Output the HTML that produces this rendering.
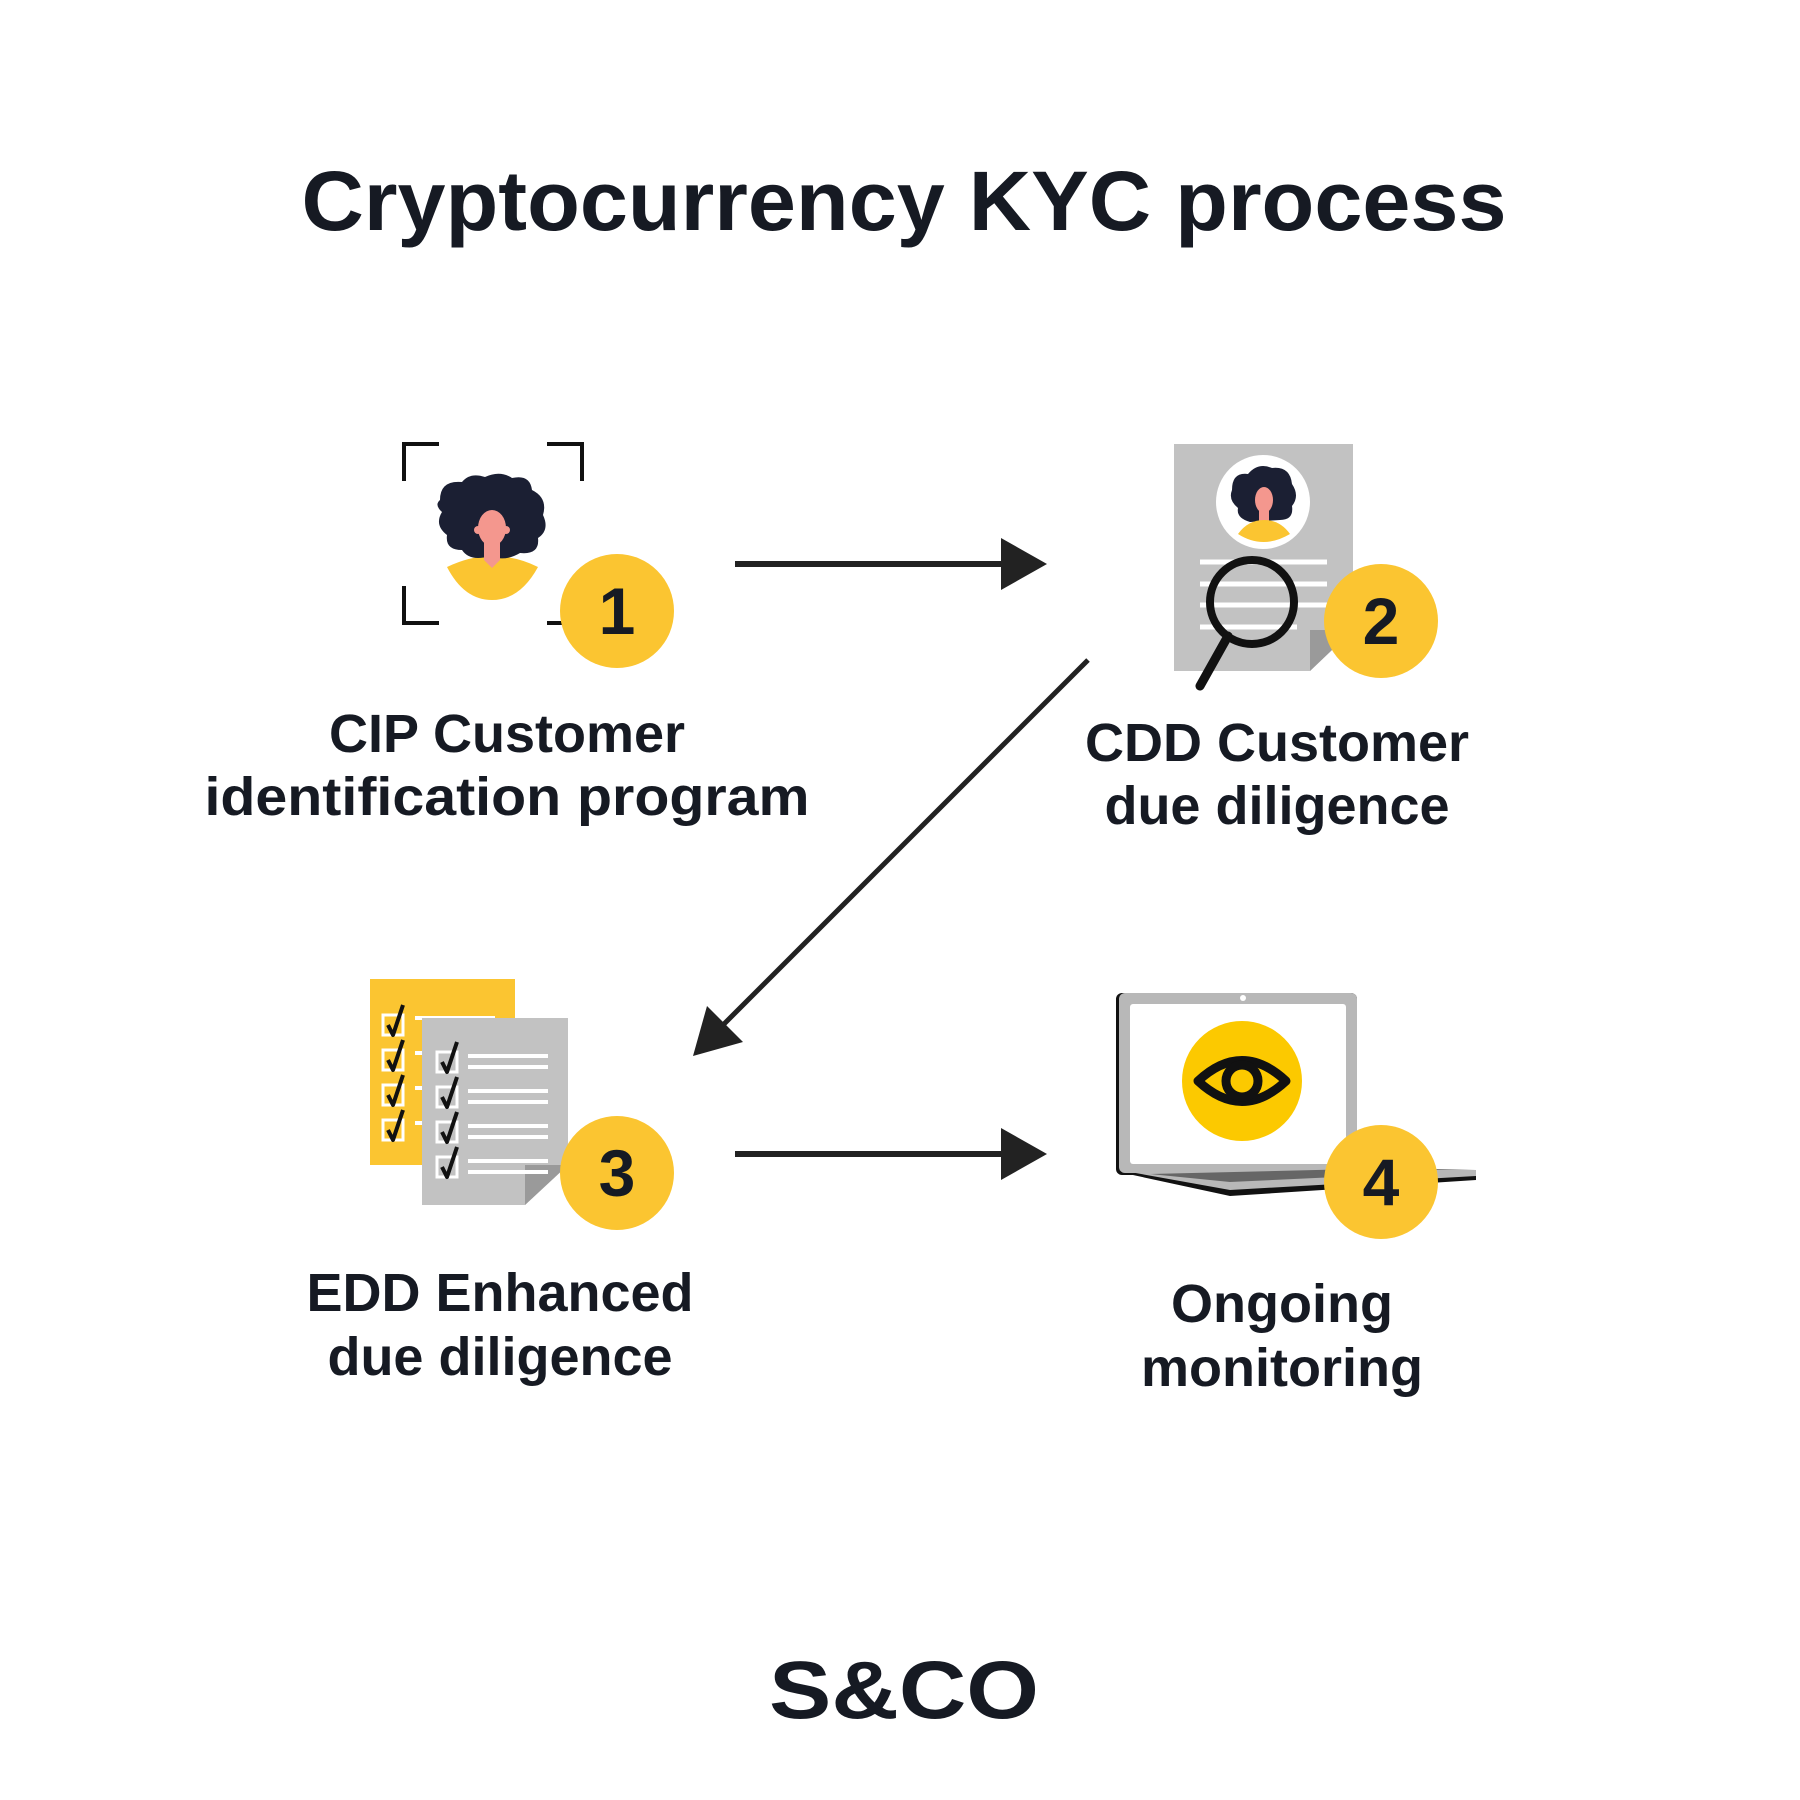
<!DOCTYPE html>
<html><head><meta charset="utf-8"><style>
html,body{margin:0;padding:0;background:#fff}
svg{display:block}
text{font-family:"Liberation Sans",sans-serif;font-weight:bold;fill:#161a23}
</style></head><body>
<svg width="1800" height="1800" viewBox="0 0 1800 1800" xmlns="http://www.w3.org/2000/svg">
<rect width="1800" height="1800" fill="#fff"/>
<text x="904" y="230" font-size="84" text-anchor="middle" textLength="1205" lengthAdjust="spacingAndGlyphs">Cryptocurrency KYC process</text>

<!-- Step 1 -->
<g fill="none" stroke="#111" stroke-width="4">
<path d="M404 481V444H439"/><path d="M547 444H582V481"/>
<path d="M404 586V623H439"/><path d="M547 623H570"/>
</g>
<path d="M447 567 Q470 556 492 556 Q516 556 538 567 Q520 600 492 600 Q464 600 447 567Z" fill="#fbc531"/>
<path d="M440 500 Q440 480 462 482 Q470 472 485 477 Q500 470 512 478 Q530 474 532 490 Q548 498 543 515 Q550 530 538 538 Q540 555 520 553 Q505 562 490 556 Q470 562 462 550 Q445 550 447 535 Q434 525 442 512 Q434 505 440 500Z" fill="#1b1f33"/>
<ellipse cx="492" cy="528" rx="14" ry="18" fill="#f4978e"/>
<circle cx="478" cy="530" r="4" fill="#f4978e"/><circle cx="506" cy="530" r="4" fill="#f4978e"/>
<path d="M484 540 H500 V560 L492 568 L484 560Z" fill="#f4978e"/>
<circle cx="617" cy="611" r="57" fill="#fbc531"/>
<text x="617" y="634" font-size="66" text-anchor="middle" fill="#111">1</text>
<text x="507" y="752" font-size="54" text-anchor="middle">CIP Customer</text>
<text x="507" y="815" font-size="54" text-anchor="middle" textLength="605" lengthAdjust="spacingAndGlyphs">identification program</text>

<!-- Arrow 1 -->
<line x1="735" y1="564" x2="1005" y2="564" stroke="#222" stroke-width="6"/>
<path d="M1001 538 L1047 564 L1001 590Z" fill="#222"/>

<!-- Step 2 -->
<path d="M1174 444 H1353 V630 L1310 671 H1174Z" fill="#c2c2c2"/>
<path d="M1353 630 L1310 630 L1310 671Z" fill="#9a9a9a"/>
<circle cx="1263" cy="502" r="47" fill="#fff"/>
<path d="M1232 490 Q1232 472 1248 474 Q1258 462 1272 468 Q1290 466 1292 484 Q1300 496 1292 506 Q1294 520 1280 520 L1250 522 Q1236 518 1238 508 Q1228 500 1232 490Z" fill="#1b1f33"/>
<ellipse cx="1264" cy="500" rx="9" ry="13" fill="#f4978e"/>
<rect x="1259" y="510" width="10" height="14" fill="#f4978e"/>
<path d="M1238 534 Q1263 550 1290 534 Q1280 520 1264 520 Q1248 520 1238 534Z" fill="#fbc531"/>
<g stroke="#fff" stroke-width="5"><line x1="1200" y1="562" x2="1327" y2="562"/><line x1="1200" y1="584" x2="1327" y2="584"/><line x1="1200" y1="605" x2="1327" y2="605"/><line x1="1200" y1="627" x2="1297" y2="627"/></g>
<circle cx="1252" cy="602" r="42" fill="none" stroke="#111" stroke-width="8"/>
<line x1="1228" y1="636" x2="1200" y2="686" stroke="#111" stroke-width="9" stroke-linecap="round"/>
<circle cx="1381" cy="621" r="57" fill="#fbc531"/>
<text x="1381" y="644" font-size="66" text-anchor="middle" fill="#111">2</text>
<text x="1277" y="761" font-size="54" text-anchor="middle">CDD Customer</text>
<text x="1277" y="824" font-size="54" text-anchor="middle">due diligence</text>

<!-- Diagonal arrow -->
<line x1="1088" y1="660" x2="720" y2="1028" stroke="#222" stroke-width="5"/>
<path d="M693 1056 L707 1006 L743 1042Z" fill="#222"/>

<!-- Step 3 -->
<rect x="370" y="979" width="145" height="186" fill="#fbc531"/>
<g fill="none" stroke="#fff" stroke-width="3">
<rect x="383" y="1015" width="20" height="20"/><rect x="383" y="1050" width="20" height="20"/><rect x="383" y="1085" width="20" height="20"/><rect x="383" y="1120" width="20" height="20"/>
</g>
<g stroke="#fff" stroke-width="4"><line x1="415" y1="1018" x2="495" y2="1018"/><line x1="415" y1="1053" x2="430" y2="1053"/><line x1="415" y1="1088" x2="430" y2="1088"/><line x1="415" y1="1123" x2="430" y2="1123"/></g>
<path d="M422 1018 H568 V1165 L525 1205 H422Z" fill="#c2c2c2"/>
<path d="M568 1165 L525 1165 L525 1205Z" fill="#9a9a9a"/>
<g fill="none" stroke="#fff" stroke-width="3">
<rect x="437" y="1052" width="20" height="20"/><rect x="437" y="1087" width="20" height="20"/><rect x="437" y="1122" width="20" height="20"/><rect x="437" y="1157" width="20" height="20"/>
</g>
<g stroke="#fff" stroke-width="4">
<line x1="468" y1="1056" x2="548" y2="1056"/><line x1="468" y1="1067" x2="548" y2="1067"/>
<line x1="468" y1="1091" x2="548" y2="1091"/><line x1="468" y1="1102" x2="548" y2="1102"/>
<line x1="468" y1="1126" x2="548" y2="1126"/><line x1="468" y1="1137" x2="548" y2="1137"/>
<line x1="468" y1="1161" x2="548" y2="1161"/><line x1="468" y1="1172" x2="548" y2="1172"/>
</g>
<g fill="none" stroke="#111" stroke-width="4" stroke-linejoin="round">
<path d="M388 1025 L393 1035 L403 1005"/><path d="M388 1060 L393 1070 L403 1040"/><path d="M388 1095 L393 1105 L403 1075"/><path d="M388 1130 L393 1140 L403 1110"/>
<path d="M442 1062 L447 1072 L457 1042"/><path d="M442 1097 L447 1107 L457 1077"/><path d="M442 1132 L447 1142 L457 1112"/><path d="M442 1167 L447 1177 L457 1147"/>
</g>
<circle cx="617" cy="1173" r="57" fill="#fbc531"/>
<text x="617" y="1196" font-size="66" text-anchor="middle" fill="#111">3</text>
<text x="500" y="1311" font-size="54" text-anchor="middle">EDD Enhanced</text>
<text x="500" y="1375" font-size="54" text-anchor="middle">due diligence</text>

<!-- Arrow 2 -->
<line x1="735" y1="1154" x2="1005" y2="1154" stroke="#222" stroke-width="6"/>
<path d="M1001 1128 L1047 1154 L1001 1180Z" fill="#222"/>

<!-- Step 4 laptop -->
<path d="M1119 1172 L1230 1196 L1476 1180 L1476 1170 L1119 1165Z" fill="#111"/>
<rect x="1116" y="993" width="241" height="182" rx="6" fill="#111"/>
<rect x="1119" y="993" width="238" height="180" rx="6" fill="#b8b8b8"/>
<rect x="1130" y="1004" width="216" height="160" rx="3" fill="#fff"/>
<circle cx="1243" cy="998" r="3" fill="#fff"/>
<path d="M1119 1170 L1476 1170 L1476 1176 L1230 1190 Z" fill="#b8b8b8"/>
<path d="M1150 1174 L1400 1168 L1400 1174 L1230 1182Z" fill="#666"/>
<circle cx="1242" cy="1081" r="60" fill="#fcc900"/>
<path d="M1198 1081 Q1242 1040 1286 1081 Q1242 1122 1198 1081Z" fill="none" stroke="#111" stroke-width="9" stroke-linejoin="round"/>
<circle cx="1242" cy="1081" r="16" fill="none" stroke="#111" stroke-width="9"/>
<circle cx="1381" cy="1182" r="57" fill="#fbc531"/>
<text x="1381" y="1205" font-size="66" text-anchor="middle" fill="#111">4</text>
<text x="1282" y="1322" font-size="54" text-anchor="middle">Ongoing</text>
<text x="1282" y="1386" font-size="54" text-anchor="middle">monitoring</text>

<!-- Logo -->
<text x="904" y="1718" font-size="82" text-anchor="middle" textLength="270" lengthAdjust="spacingAndGlyphs">S&amp;CO</text>
</svg>
</body></html>
